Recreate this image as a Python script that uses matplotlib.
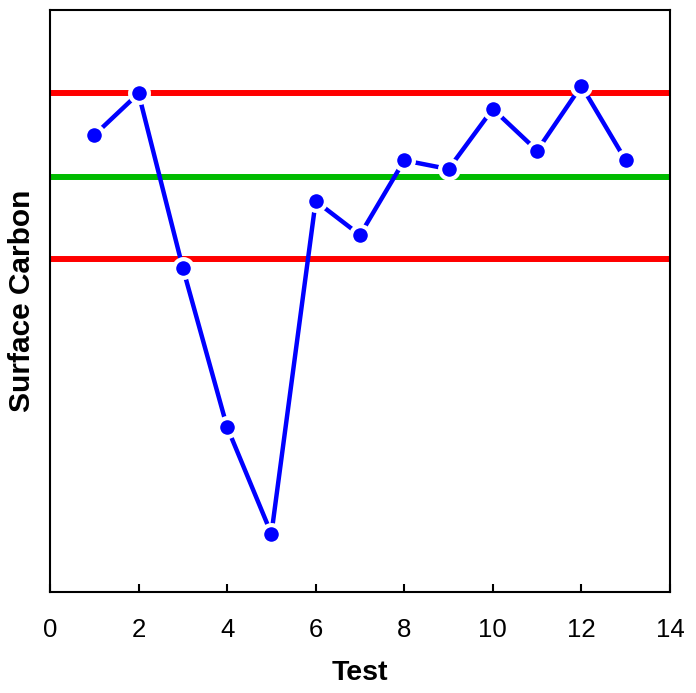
import matplotlib.pyplot as plt

plt.rcParams['font.family'] = ['Liberation Sans', 'DejaVu Sans']

# test number and surface carbon reading
tests = [1, 2, 3, 4, 5, 6, 7, 8, 9, 10, 11, 12, 13]
carbon = [0.871, 0.914, 0.734, 0.570, 0.460, 0.803, 0.768,
          0.845, 0.836, 0.898, 0.855, 0.922, 0.845]

# control limits
ucl = 0.914
center = 0.828
lcl = 0.743

fig = plt.figure(figsize=(6.96, 6.93), dpi=100)
ax = fig.add_axes([0.0718, 0.1457, 0.8908, 0.8399])

ax.axhline(ucl, color='#ff0000', lw=4.3, zorder=1)
ax.axhline(lcl, color='#ff0000', lw=4.3, zorder=1)
ax.axhline(center, color='#00bb00', lw=4.3, zorder=1)

ax.plot(tests, carbon, color='#0000ff', lw=3.2, zorder=2)
ax.plot(tests, carbon, 'o', ms=13.5, mfc='#0000ff', mec='white', mew=3,
        zorder=3, clip_on=False)

ax.set_xlim(0, 14)
ax.set_ylim(0.40, 1.00)
ax.set_xticks(range(0, 15, 2))
ax.set_yticks([])
ax.tick_params(axis='x', direction='in', length=6, width=1.5, pad=19,
               labelsize=18.5, top=False)
for s in ax.spines.values():
    s.set_linewidth(1.5)

ax.set_xlabel('Test', fontsize=20.5, fontweight='bold', labelpad=13)
ax.set_ylabel('Surface Carbon', fontsize=21.5, fontweight='bold', labelpad=10)

fig.savefig('out.png', dpi=100)
